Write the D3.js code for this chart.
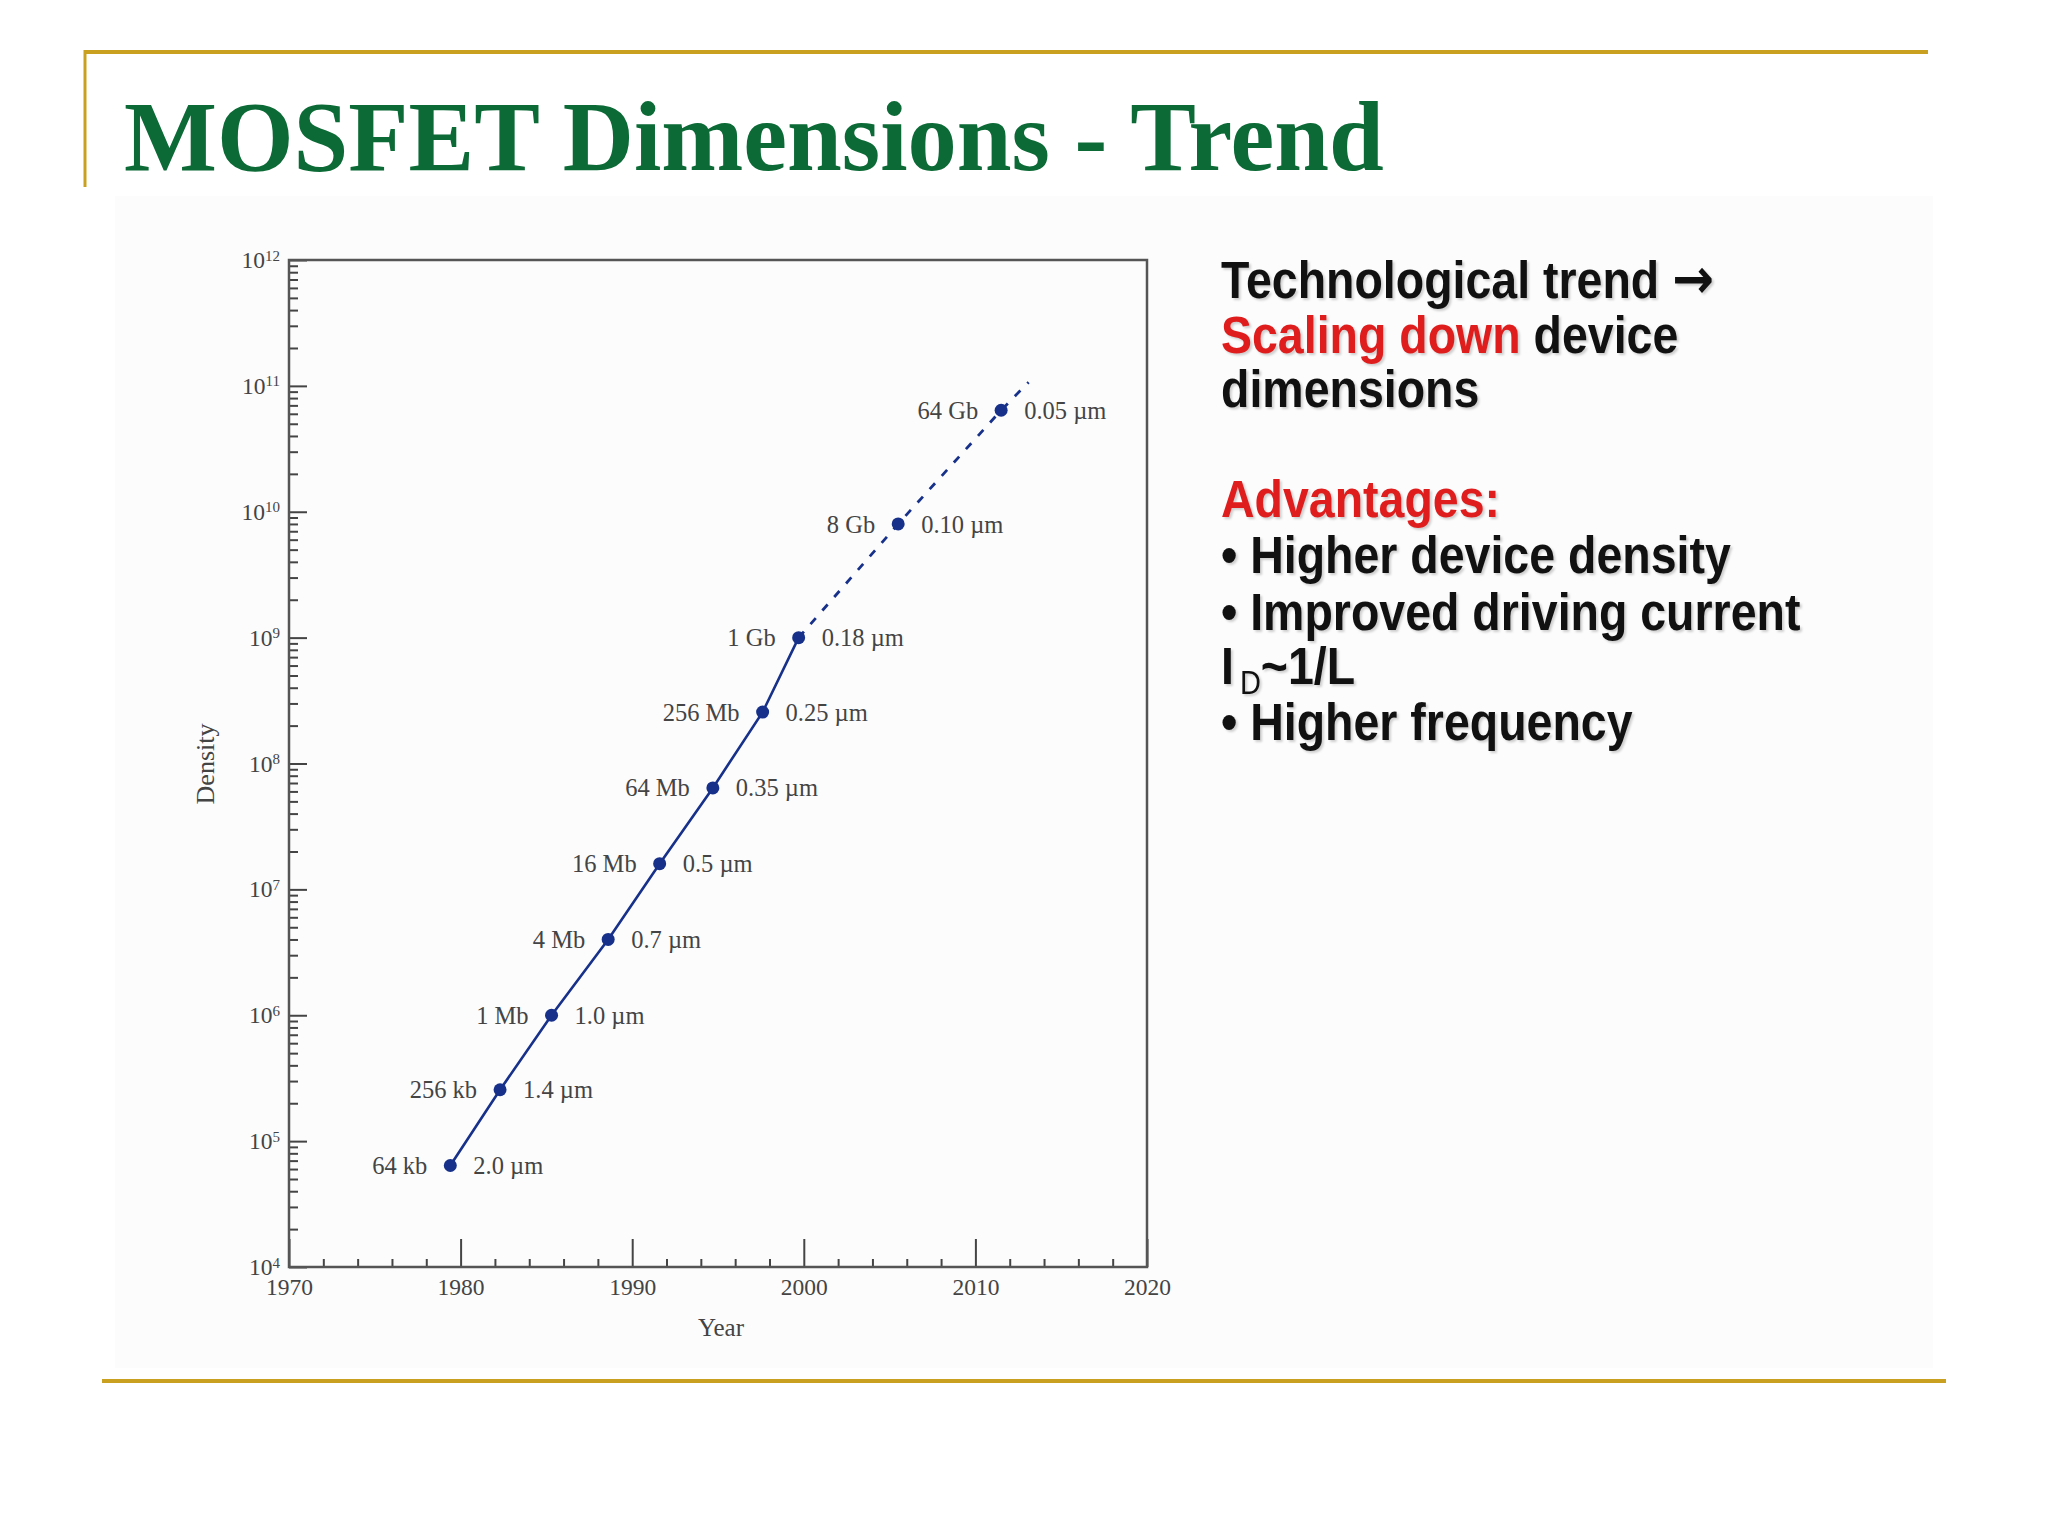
<!DOCTYPE html>
<html>
<head>
<meta charset="utf-8">
<script src="https://cdn.jsdelivr.net/npm/d3@7"></script>
<style>
  html, body { margin: 0; padding: 0; background: #fff; }
  .side { filter: drop-shadow(2px 2px 1px rgba(0,0,0,0.18)); }
</style>
</head>
<body>
<div id="slide"></div>
<script>
// memory generations plotted against year of introduction
const chips = ['64 kb', '256 kb', '1 Mb', '4 Mb', '16 Mb', '64 Mb', '256 Mb', '1 Gb', '8 Gb', '64 Gb'];
const featureSizes = ['2.0 µm', '1.4 µm', '1.0 µm', '0.7 µm', '0.5 µm', '0.35 µm', '0.25 µm', '0.18 µm', '0.10 µm', '0.05 µm'];
const years = [1979.4, 1982.3, 1985.3, 1988.6, 1991.6, 1994.7, 1997.6, 1999.7, 2005.5, 2011.5];
const density = [6.4e4, 2.56e5, 1e6, 4e6, 1.6e7, 6.4e7, 2.56e8, 1e9, 8e9, 6.4e10];
// where the projected (dashed) trend ends
const trendEndYear = 2013.1;
const trendEndDensity = 1.07e11;

const xTickYears = [1970, 1980, 1990, 2000, 2010, 2020];
const yDecades = [1e4, 1e5, 1e6, 1e7, 1e8, 1e9, 1e10, 1e11, 1e12];

const width = 2048;
const height = 1536;

const plot = { left: 289, right: 1147, top: 260, bottom: 1267 };

const svg = d3.select('#slide')
  .append('svg')
    .attr('width', width)
    .attr('height', height);

svg.append('rect')
  .attr('width', width)
  .attr('height', height)
  .attr('fill', '#fff');

// faint backdrop of the pasted figure
svg.append('rect')
  .attr('x', 115).attr('y', 196)
  .attr('width', 1818).attr('height', 1172)
  .attr('fill', '#fcfcfd');

// slide decoration
const gold = '#c9a020';
svg.append('line')
  .attr('x1', 84).attr('x2', 1928).attr('y1', 52).attr('y2', 52)
  .attr('stroke', gold).attr('stroke-width', 4);
svg.append('line')
  .attr('x1', 85).attr('x2', 85).attr('y1', 50).attr('y2', 187)
  .attr('stroke', gold).attr('stroke-width', 3);
svg.append('line')
  .attr('x1', 102).attr('x2', 1946).attr('y1', 1381).attr('y2', 1381)
  .attr('stroke', gold).attr('stroke-width', 4);

svg.append('text')
  .attr('x', 124)
  .attr('y', 170)
  .attr('font-family', '"Liberation Serif", "DejaVu Serif", serif')
  .attr('font-weight', 'bold')
  .attr('font-size', 98.5)
  .attr('fill', '#0b6a35')
  .text('MOSFET Dimensions - Trend');

// scales
const xScale = d3.scaleLinear()
  .domain([1970, 2020])
  .range([plot.left, plot.right]);

const yScale = d3.scaleLog()
  .domain([1e4, 1e12])
  .range([plot.bottom, plot.top]);

const serif = '"Liberation Serif", "DejaVu Serif", serif';
const axisColor = '#444';

const chart = svg.append('g').attr('class', 'chart');

// minor ticks
const minorYears = d3.range(1972, 2020, 2).filter(d => d % 10 !== 0);
const minorDensity = [];
yDecades.slice(0, -1).forEach(dec => {
  d3.range(2, 10).forEach(m => minorDensity.push(dec * m));
});

const styleAxis = g => {
  g.select('.domain').remove();
  g.selectAll('line').attr('stroke', axisColor).attr('stroke-width', 2);
};

chart.append('g')
  .attr('transform', `translate(0, ${plot.bottom})`)
  .call(d3.axisBottom(xScale).tickValues(minorYears).tickSize(-8).tickSizeOuter(0).tickFormat(''))
  .call(styleAxis);

chart.append('g')
  .attr('transform', `translate(${plot.left}, 0)`)
  .call(d3.axisLeft(yScale).tickValues(minorDensity).tickSize(-9).tickSizeOuter(0).tickFormat(''))
  .call(styleAxis);

// x axis
const xAxis = chart.append('g')
  .attr('class', 'axis axis-x')
  .attr('transform', `translate(0, ${plot.bottom})`)
  .call(d3.axisBottom(xScale).tickValues(xTickYears).tickSize(-28).tickSizeOuter(0).tickPadding(11).tickFormat(d3.format('d')))
  .call(styleAxis);

xAxis.selectAll('text')
  .attr('font-family', serif)
  .attr('font-size', 23.5)
  .attr('fill', axisColor);

// y axis
const yAxis = chart.append('g')
  .attr('class', 'axis axis-y')
  .attr('transform', `translate(${plot.left}, 0)`)
  .call(d3.axisLeft(yScale).tickValues(yDecades).tickSize(-18).tickSizeOuter(0).tickPadding(9).tickFormat(''))
  .call(styleAxis);

yAxis.selectAll('.tick text')
  .attr('font-family', serif)
  .attr('font-size', 23.5)
  .attr('fill', axisColor)
  .each(function(d) {
    const t = d3.select(this);
    t.append('tspan').text('10');
    t.append('tspan')
      .attr('dy', '-0.5em')
      .attr('font-size', 15)
      .text(Math.round(Math.log10(d)));
  });

// frame
chart.append('rect')
  .attr('x', plot.left)
  .attr('y', plot.top)
  .attr('width', plot.right - plot.left)
  .attr('height', plot.bottom - plot.top)
  .attr('fill', 'none')
  .attr('stroke', '#555')
  .attr('stroke-width', 2.5);

// axis titles
chart.append('text')
  .attr('x', (plot.left + plot.right) / 2 + 3)
  .attr('y', 1336)
  .attr('text-anchor', 'middle')
  .attr('font-family', serif)
  .attr('font-size', 25)
  .attr('fill', axisColor)
  .text('Year');

chart.append('text')
  .attr('transform', 'translate(214, 764) rotate(-90)')
  .attr('text-anchor', 'middle')
  .attr('font-family', serif)
  .attr('font-size', 26)
  .attr('fill', axisColor)
  .text('Density');

// data line
const points = years.map((yr, i) => ({ year: yr, density: density[i], chip: chips[i], size: featureSizes[i] }));
const split = chips.indexOf('1 Gb');
const solid = points.slice(0, split + 1);
const dashed = points.slice(split).concat([{ year: trendEndYear, density: trendEndDensity }]);

const line = d3.line()
  .x(d => xScale(d.year))
  .y(d => yScale(d.density));

const navy = '#17318a';

chart.append('path')
  .datum(solid)
  .attr('d', line)
  .attr('fill', 'none')
  .attr('stroke', navy)
  .attr('stroke-width', 2.6);

chart.append('path')
  .datum(dashed)
  .attr('d', line)
  .attr('fill', 'none')
  .attr('stroke', navy)
  .attr('stroke-width', 2.8)
  .attr('stroke-dasharray', '8 10');

const marks = chart.selectAll('.pt')
  .data(points)
  .enter().append('g')
    .attr('class', 'pt')
    .attr('transform', d => `translate(${xScale(d.year)}, ${yScale(d.density)})`);

marks.append('circle')
  .attr('r', 6.5)
  .attr('fill', navy);

marks.append('text')
  .attr('x', -23)
  .attr('dy', '0.35em')
  .attr('text-anchor', 'end')
  .attr('font-family', serif)
  .attr('font-size', 24.5)
  .attr('fill', axisColor)
  .text(d => d.chip);

marks.append('text')
  .attr('x', 23)
  .attr('dy', '0.35em')
  .attr('font-family', serif)
  .attr('font-size', 24.5)
  .attr('fill', axisColor)
  .text(d => d.size);

// side notes
const red = '#e01d1d';
const side = svg.append('g').attr('class', 'side');
const sideLines = [
  { y: 298, parts: [['Technological trend ', '#111'], ['\u2192', '#111', 'arrow']] },
  { y: 353, parts: [['Scaling down', red], [' device', '#111']] },
  { y: 407, parts: [['dimensions', '#111']] },
  { y: 517, parts: [['Advantages:', red]] },
  { y: 573, parts: [['\u2022 Higher device density', '#111']] },
  { y: 630, parts: [['\u2022 Improved driving current', '#111']] },
  { y: 684, parts: [['I', '#111'], ['D', '#111', 'sub'], ['~1/L', '#111', 'up']] },
  { y: 740, parts: [['\u2022 Higher frequency', '#111']] },
];

sideLines.forEach(l => {
  const t = side.append('text')
    .attr('transform', `translate(1221, ${l.y}) scale(1, 1.12)`)
    .attr('font-family', '"Liberation Sans", Arial, sans-serif')
    .attr('font-weight', 'bold')
    .attr('font-size', 46.5);
  l.parts.forEach(p => {
    const s = t.append('tspan').attr('fill', p[1]).text(p[0]);
    if (p[2] === 'arrow') s.attr('font-family', '"DejaVu Sans", sans-serif').attr('font-size', 50);
    if (p[2] === 'sub') s.attr('font-size', 29).attr('font-weight', 'normal').attr('dx', 6).attr('dy', 9);
    if (p[2] === 'up') s.attr('dy', -9);
  });
});
</script>
</body>
</html>
